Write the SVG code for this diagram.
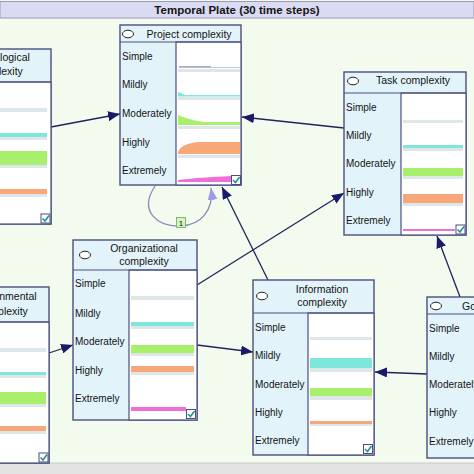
<svg xmlns="http://www.w3.org/2000/svg" width="474" height="474" viewBox="0 0 474 474">
<defs>
<style>
text{font-family:"Liberation Sans",Arial,sans-serif;fill:#141414}
.ttl{font-size:10.5px;text-anchor:middle}
.lbl{font-size:10px}
.box{fill:#e3f3fa;stroke:#4a4f80;stroke-width:1.4}
.chart{fill:#ffffff;stroke:#4a4f80;stroke-width:1.2}
.sep{stroke:#4a4f80;stroke-width:1.2}
.ell{fill:#fff;stroke:#222;stroke-width:1}
.band{fill:#dde7ea}
.gry{fill:#cfd8de}
.cy{fill:#7fe6dc}
.gr{fill:#a8f06c}
.or{fill:#f8a878}
.pk{fill:#ee6fd6}
.chk{fill:#fff;stroke:#4a4f80;stroke-width:1}
.tick{fill:none;stroke:#2b8f8c;stroke-width:1.6}
.edge{fill:none;stroke:#22225e;stroke-width:1.3}
</style>
<marker id="ah" viewBox="0 0 12 10" refX="12" refY="5" markerWidth="12" markerHeight="10" markerUnits="userSpaceOnUse" orient="auto">
<path d="M0,0 L12,5 L0,10 Z" fill="#1a1a6a"/>
</marker>
<marker id="ahl" viewBox="0 0 12 10" refX="12" refY="5" markerWidth="12" markerHeight="10" markerUnits="userSpaceOnUse" orient="auto">
<path d="M0,0 L12,5 L0,10 Z" fill="#9a9ae6"/>
</marker>
</defs>
<rect x="0" y="0" width="474" height="474" fill="#f3fbef"/>
<rect x="0" y="1.5" width="474" height="16.5" fill="#dadaf3" stroke="#9a9ab0" stroke-width="1"/>
<text x="237" y="14" style="font-size:11.5px;font-weight:bold;text-anchor:middle">Temporal Plate (30 time steps)</text>
<rect x="0" y="463" width="474" height="11" fill="#e3e3e3"/>
<line x1="0" y1="463" x2="474" y2="463" stroke="#c8c8c8" stroke-width="1"/>

<g id="connectors">
<line class="edge" x1="51" y1="127" x2="120" y2="114" marker-end="url(#ah)"/>
<line class="edge" x1="344" y1="128" x2="242" y2="117" marker-end="url(#ah)"/>
<line class="edge" x1="197" y1="285" x2="344" y2="193" marker-end="url(#ah)"/>
<line class="edge" x1="197" y1="345" x2="253" y2="352" marker-end="url(#ah)"/>
<line class="edge" x1="49" y1="353" x2="73" y2="345" marker-end="url(#ah)"/>
<line class="edge" x1="268" y1="280" x2="222" y2="187" marker-end="url(#ah)"/>
<line class="edge" x1="460" y1="297" x2="437" y2="236" marker-end="url(#ah)"/>
<line class="edge" x1="427" y1="374" x2="375" y2="372" marker-end="url(#ah)"/>
<path d="M155,186 C138,212 158,227 181,226 C201,225 214,210 211,188" fill="none" stroke="#8a8ab8" stroke-width="1.3" marker-end="url(#ahl)"/>
<rect x="176.5" y="217.5" width="9" height="10" fill="#d4f2c0" stroke="#6aa860" stroke-width="0.8"/>
<text x="181" y="226" style="font-size:8px;text-anchor:middle">1</text>
</g>

<g id="technological">
<rect class="box" x="-73" y="49" width="124" height="175"/>
<rect class="chart" x="-15" y="82" width="66" height="142"/>
<line class="sep" x1="-73" y1="82" x2="51" y2="82"/>
<text class="ttl" x="-2" y="61">Technological</text>
<text class="ttl" x="-2" y="75">complexity</text>
<rect class="band" x="0" y="108" width="47" height="4"/>
<rect class="cy" x="0" y="133" width="47" height="4"/><rect class="band" x="0" y="137" width="47" height="3"/>
<rect class="gr" x="0" y="151" width="47" height="14"/><rect class="band" x="0" y="165" width="47" height="3"/>
<rect class="or" x="0" y="189" width="47" height="5"/><rect class="band" x="0" y="194" width="47" height="3"/>
<rect class="chk" x="41" y="214" width="9" height="9"/><path class="tick" d="M42.5,218.5 L45,221 L49,215.5"/>
</g>

<g id="project">
<rect class="box" x="120" y="25" width="121" height="160"/>
<rect class="chart" x="176" y="42" width="65" height="143"/>
<line class="sep" x1="120" y1="42" x2="241" y2="42"/>
<ellipse class="ell" cx="128" cy="34" rx="5.5" ry="3.8"/>
<text class="ttl" x="189" y="38">Project complexity</text>
<text class="lbl" x="122" y="60">Simple</text>
<text class="lbl" x="122" y="88">Mildly</text>
<text class="lbl" x="122" y="117">Moderately</text>
<text class="lbl" x="122" y="146">Highly</text>
<text class="lbl" x="122" y="174">Extremely</text>
<rect x="179" y="66.3" width="32" height="1.3" fill="#8c8cae"/><rect x="211" y="67" width="29" height="1" fill="#c0ccd4"/>
<rect class="band" x="178" y="69" width="62" height="3"/>
<path class="cy" d="M178,92 L181,93 L185,95 L240,95 L240,96.5 L178,96.5 Z"/>
<rect class="band" x="178" y="97" width="62" height="3"/>
<path class="gr" d="M178,115 C185,118 195,121 205,122 L240,122 L240,125 L178,125 Z"/>
<rect class="band" x="178" y="126" width="62" height="3"/>
<path class="or" d="M178,152 C180,146 188,143 198,142 L240,142 L240,154 L178,154 Z"/>
<rect class="band" x="178" y="155" width="62" height="3"/>
<path class="pk" d="M178,180 C195,178 210,177 231,176 L231,182 L178,182 Z"/>
<rect class="chk" x="231.5" y="175.5" width="9" height="9"/><path class="tick" d="M233,180 L235.5,182.5 L239.5,177"/>
</g>

<g id="task">
<rect class="box" x="344" y="72" width="122" height="163"/>
<rect class="chart" x="401" y="93" width="65" height="142"/>
<line class="sep" x1="344" y1="93" x2="466" y2="93"/>
<ellipse class="ell" cx="353" cy="81" rx="5.5" ry="3.8"/>
<text class="ttl" x="413" y="84">Task complexity</text>
<text class="lbl" x="346" y="111">Simple</text>
<text class="lbl" x="346" y="139">Mildly</text>
<text class="lbl" x="346" y="167">Moderately</text>
<text class="lbl" x="346" y="196">Highly</text>
<text class="lbl" x="346" y="224">Extremely</text>
<rect class="band" x="403" y="120" width="60" height="3"/>
<rect class="cy" x="403" y="145" width="60" height="3"/><rect class="band" x="403" y="148" width="60" height="3"/>
<rect class="gr" x="403" y="168" width="60" height="8"/><rect class="band" x="403" y="176" width="60" height="3"/>
<rect class="or" x="403" y="194" width="60" height="9"/><rect class="band" x="403" y="203" width="60" height="3"/>
<rect class="pk" x="403" y="229" width="52" height="2"/>
<rect class="chk" x="456" y="225" width="9" height="9"/><path class="tick" d="M457.5,229.5 L460,232 L464,226.5"/>
</g>

<g id="organizational">
<rect class="box" x="73" y="240" width="124" height="180"/>
<rect class="chart" x="129" y="270" width="68" height="150"/>
<line class="sep" x1="73" y1="270" x2="197" y2="270"/>
<ellipse class="ell" cx="85" cy="255" rx="5.5" ry="3.8"/>
<text class="ttl" x="144" y="252">Organizational</text>
<text class="ttl" x="144" y="265">complexity</text>
<text class="lbl" x="75" y="287">Simple</text>
<text class="lbl" x="75" y="317">Mildly</text>
<text class="lbl" x="75" y="345">Moderately</text>
<text class="lbl" x="75" y="374">Highly</text>
<text class="lbl" x="75" y="402">Extremely</text>
<rect class="band" x="131" y="296" width="63" height="4"/>
<rect class="cy" x="131" y="322" width="63" height="4"/><rect class="band" x="131" y="326" width="63" height="3"/>
<rect class="gr" x="131" y="345" width="63" height="8"/><rect class="band" x="131" y="353" width="63" height="3"/>
<rect class="or" x="131" y="366" width="63" height="6"/><rect class="band" x="131" y="372" width="63" height="3"/>
<rect class="pk" x="131" y="407" width="55" height="4"/>
<rect class="chk" x="186.5" y="409.5" width="9" height="9"/><path class="tick" d="M188,414 L190.5,416.5 L194.5,411"/>
</g>

<g id="information">
<rect class="box" x="253" y="280" width="121" height="175"/>
<rect class="chart" x="308" y="313" width="66" height="142"/>
<line class="sep" x1="253" y1="313" x2="374" y2="313"/>
<ellipse class="ell" cx="262" cy="296" rx="5.5" ry="3.8"/>
<text class="ttl" x="322" y="293">Information</text>
<text class="ttl" x="322" y="306">complexity</text>
<text class="lbl" x="255" y="331">Simple</text>
<text class="lbl" x="255" y="359">Mildly</text>
<text class="lbl" x="255" y="388">Moderately</text>
<text class="lbl" x="255" y="416">Highly</text>
<text class="lbl" x="255" y="444">Extremely</text>
<rect class="band" x="310" y="337" width="62" height="3"/>
<rect class="cy" x="310" y="358" width="62" height="10"/><rect class="band" x="310" y="368" width="62" height="4"/>
<rect class="gr" x="310" y="388" width="62" height="8"/><rect class="band" x="310" y="396" width="62" height="4"/>
<rect class="or" x="310" y="421" width="62" height="3"/><rect class="band" x="310" y="424" width="62" height="2"/>
<rect class="chk" x="363.5" y="444.5" width="9" height="9"/><path class="tick" d="M365,449 L367.5,451.5 L371.5,446"/>
</g>

<g id="environmental">
<rect class="box" x="-75" y="287" width="124" height="176"/>
<rect class="chart" x="-17" y="322" width="66" height="141"/>
<line class="sep" x1="-75" y1="322" x2="49" y2="322"/>
<text class="ttl" x="3" y="300">Environmental</text>
<text class="ttl" x="3" y="315">complexity</text>
<rect class="band" x="0" y="348" width="46" height="4"/>
<rect class="cy" x="0" y="372" width="46" height="3"/><rect class="band" x="0" y="375" width="46" height="3"/>
<rect class="gr" x="0" y="392" width="46" height="12"/><rect class="band" x="0" y="404" width="46" height="3"/>
<rect class="or" x="0" y="426" width="46" height="5"/><rect class="band" x="0" y="431" width="46" height="3"/>
<rect class="chk" x="39" y="453" width="9" height="9"/><path class="tick" d="M40.5,457.5 L43,460 L47,454.5"/>
</g>

<g id="goal">
<rect class="box" x="427" y="297" width="80" height="161"/>
<line class="sep" x1="427" y1="314" x2="507" y2="314"/>
<ellipse class="ell" cx="436" cy="306" rx="5.5" ry="3.8"/>
<text x="462" y="310" style="font-size:10.5px">Goal complexity</text>
<text class="lbl" x="429" y="332">Simple</text>
<text class="lbl" x="429" y="360">Mildly</text>
<text class="lbl" x="429" y="388">Moderately</text>
<text class="lbl" x="429" y="416">Highly</text>
<text class="lbl" x="429" y="445">Extremely</text>
</g>
</svg>
